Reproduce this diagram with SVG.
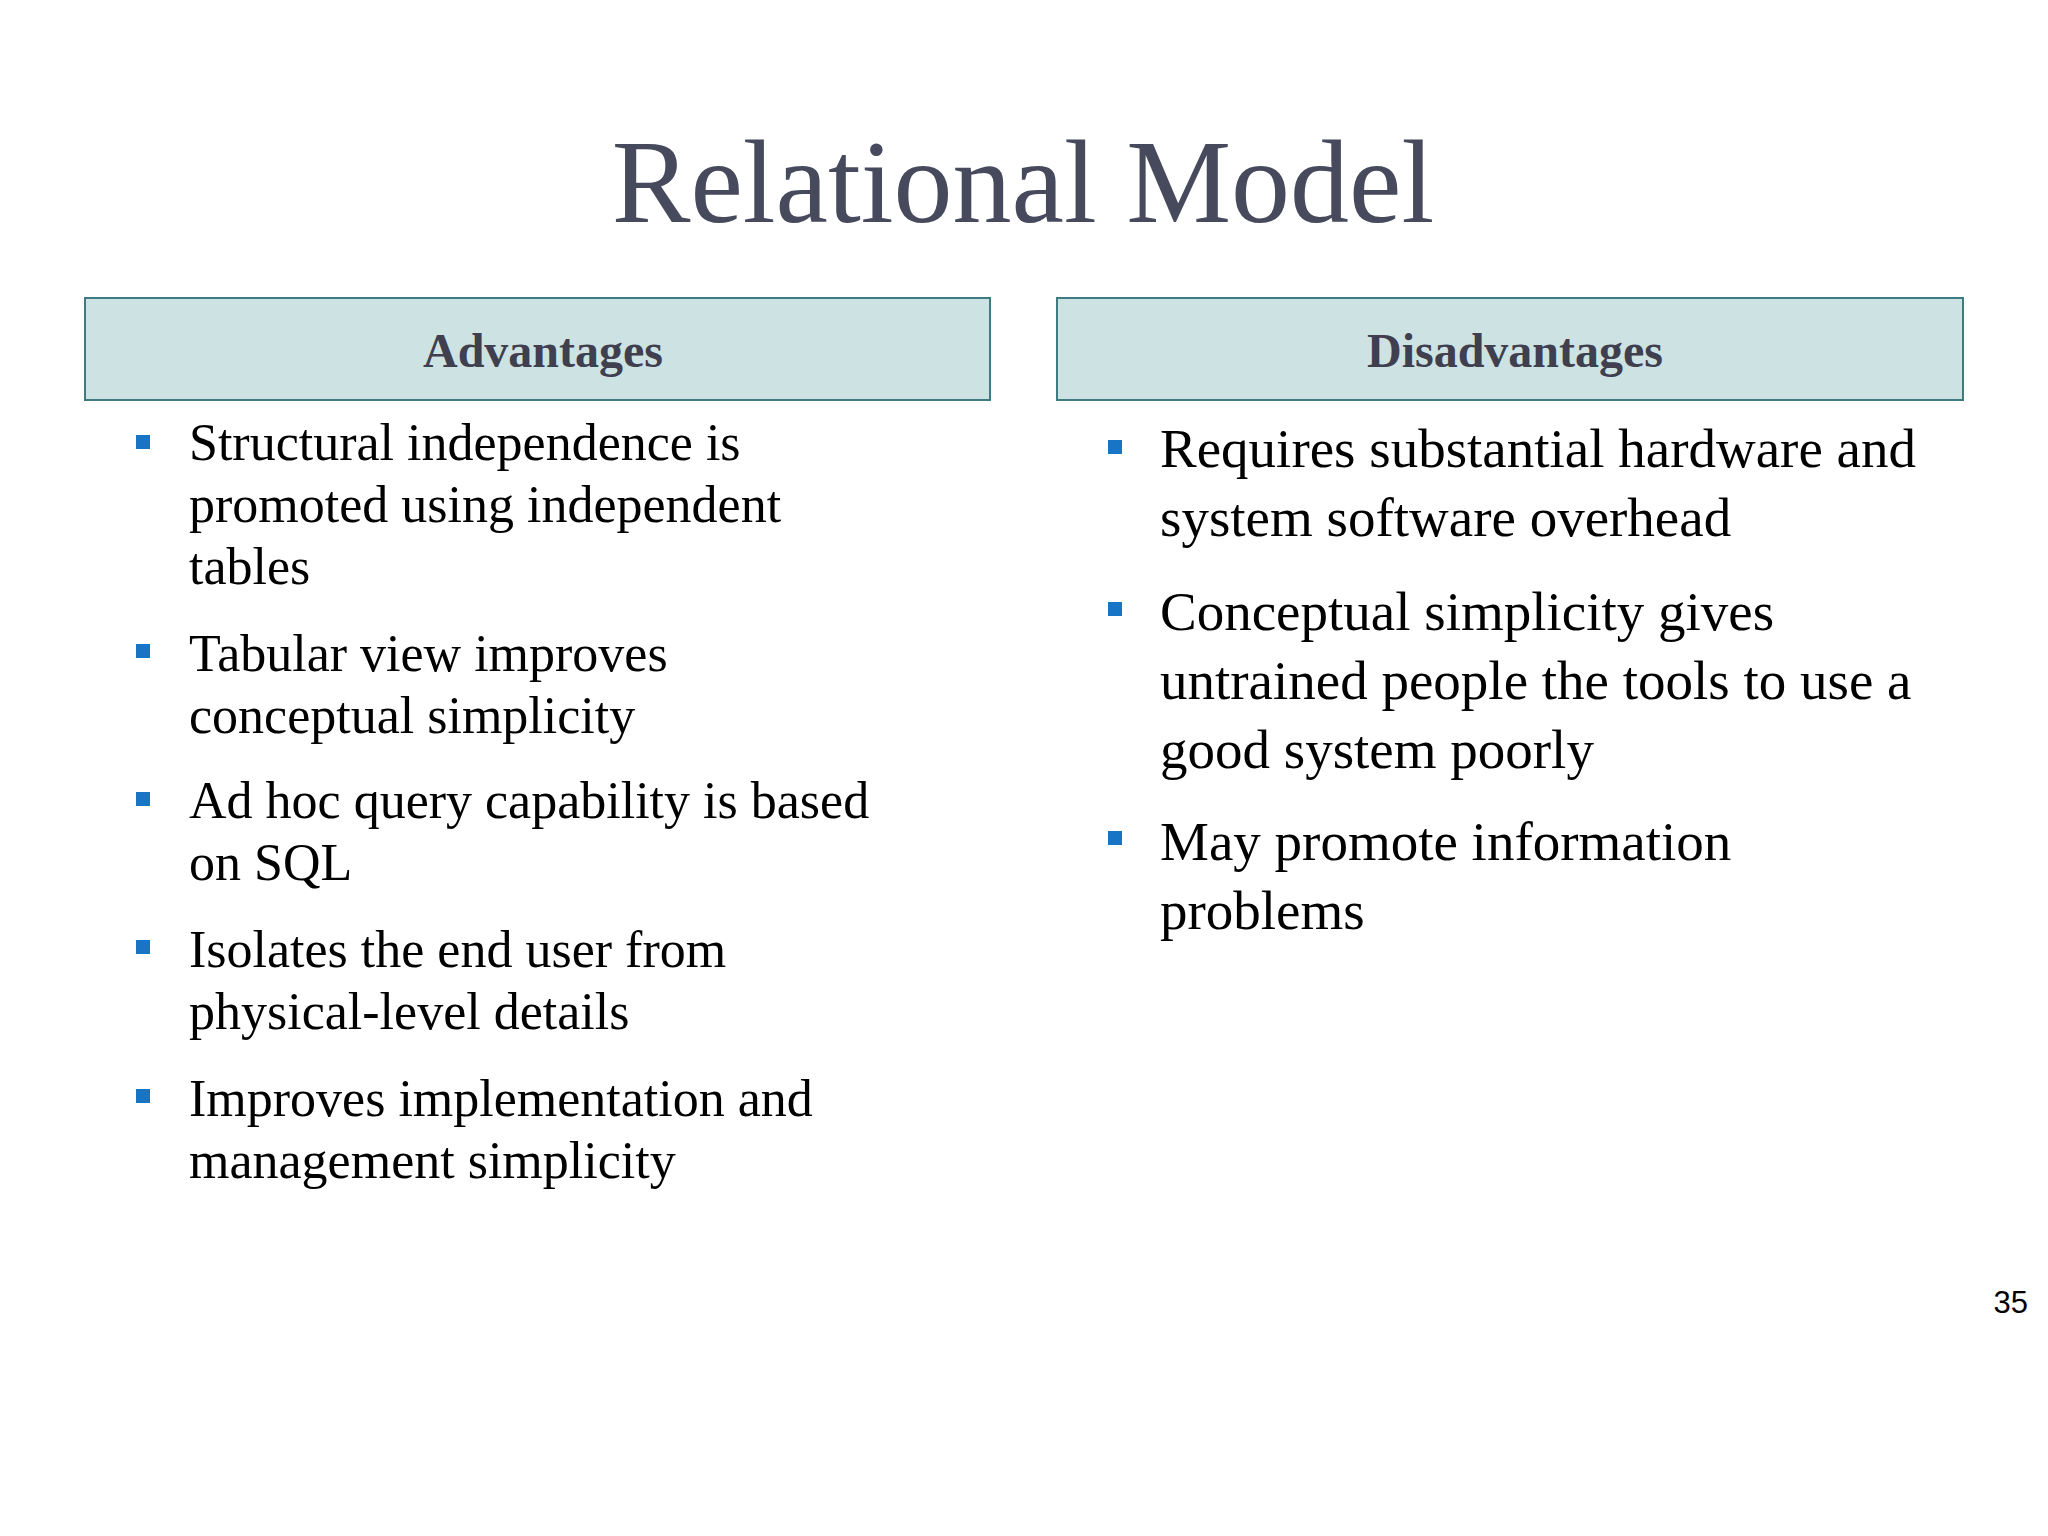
<svg xmlns="http://www.w3.org/2000/svg" width="2048" height="1536" viewBox="0 0 2048 1536">
<style>
.t{font-family:"Liberation Serif",serif;fill:#000}
.l{font-size:52px}
.r{font-size:55px}
.h{font-family:"Liberation Serif",serif;font-weight:bold;font-size:48px;fill:#3f3f4f;text-anchor:middle}
.hb{fill:#cde3e3;stroke:#3f7c82;stroke-width:2}
.b{fill:#1874c4}
</style>
<rect width="2048" height="1536" fill="#fff"/>
<text x="1023" y="222" font-family="Liberation Serif,serif" font-size="118" fill="#464a5c" text-anchor="middle">Relational Model</text>
<g id="adv-header"><rect class="hb" x="85" y="298" width="905" height="102"/><text class="h" x="543" y="367">Advantages</text></g>
<g id="dis-header"><rect class="hb" x="1057" y="298" width="906" height="102"/><text class="h" x="1515" y="367">Disadvantages</text></g>
<g id="adv-list">
<rect class="b" x="136" y="435" width="14" height="14"/>
<text class="t l" x="189" y="460">Structural independence is</text>
<text class="t l" x="189" y="522">promoted using independent</text>
<text class="t l" x="189" y="584">tables</text>
<rect class="b" x="136" y="644" width="14" height="14"/>
<text class="t l" x="189" y="671">Tabular view improves</text>
<text class="t l" x="189" y="733">conceptual simplicity</text>
<rect class="b" x="136" y="792" width="14" height="14"/>
<text class="t l" x="189" y="818">Ad hoc query capability is based</text>
<text class="t l" x="189" y="880">on SQL</text>
<rect class="b" x="136" y="940" width="14" height="14"/>
<text class="t l" x="189" y="967">Isolates the end user from</text>
<text class="t l" x="189" y="1029">physical-level details</text>
<rect class="b" x="136" y="1089" width="14" height="14"/>
<text class="t l" x="189" y="1116">Improves implementation and</text>
<text class="t l" x="189" y="1178">management simplicity</text>
</g>
<g id="dis-list">
<rect class="b" x="1108" y="440" width="14" height="14"/>
<text class="t r" x="1160" y="467">Requires substantial hardware and</text>
<text class="t r" x="1160" y="536">system software overhead</text>
<rect class="b" x="1108" y="602" width="14" height="14"/>
<text class="t r" x="1160" y="630">Conceptual simplicity gives</text>
<text class="t r" x="1160" y="699">untrained people the tools to use a</text>
<text class="t r" x="1160" y="768">good system poorly</text>
<rect class="b" x="1108" y="831" width="14" height="14"/>
<text class="t r" x="1160" y="860">May promote information</text>
<text class="t r" x="1160" y="929">problems</text>
</g>
<text x="2028" y="1313" font-family="Liberation Sans,sans-serif" font-size="31" text-anchor="end">35</text>
</svg>
